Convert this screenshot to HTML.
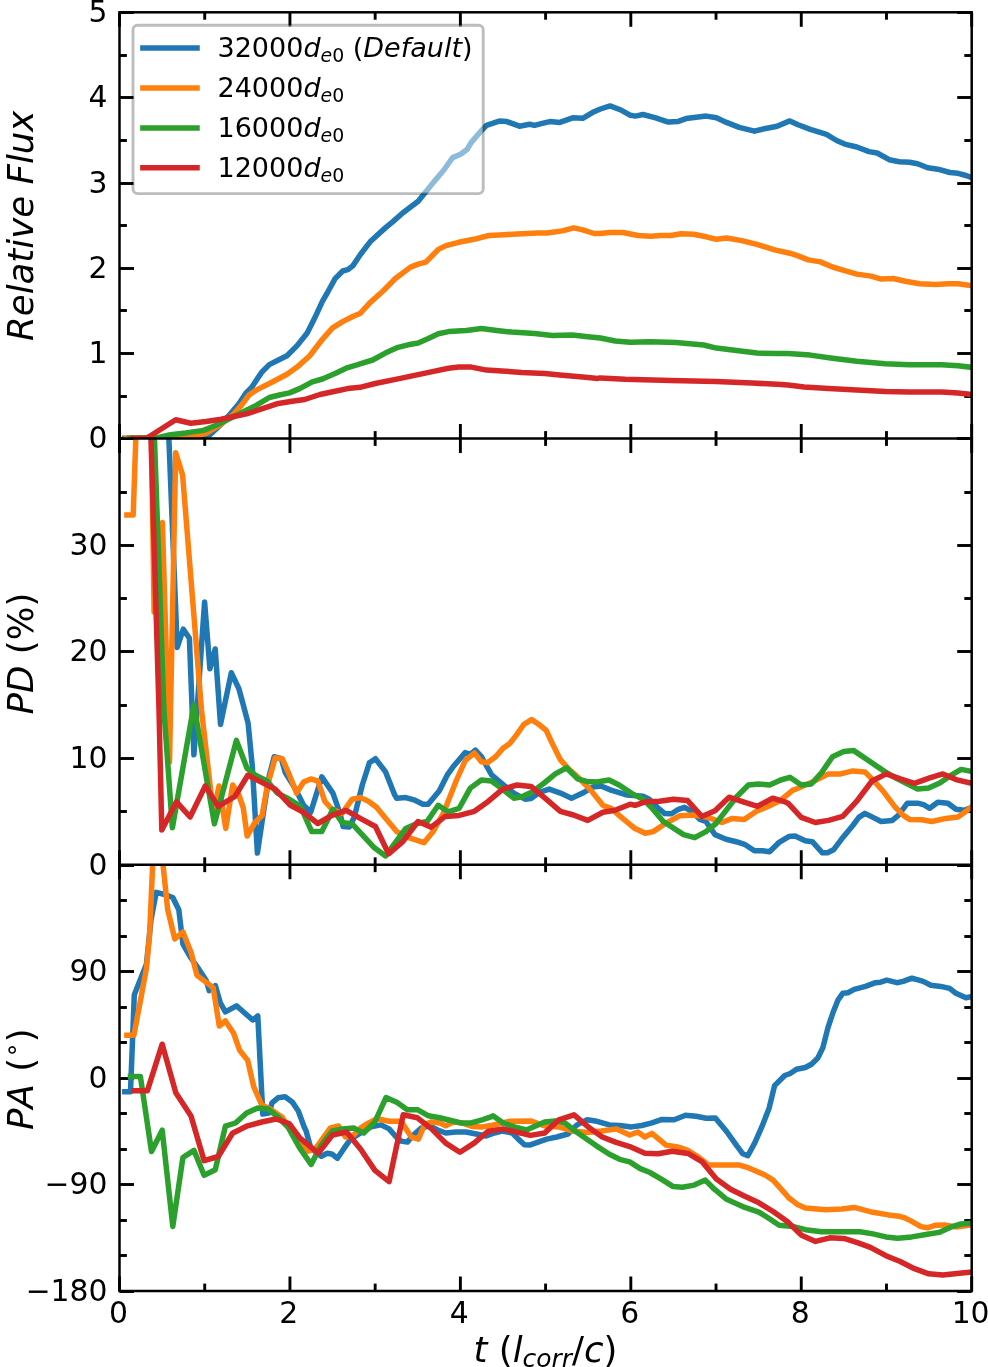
<!DOCTYPE html>
<html lang="en"><head><meta charset="utf-8"><title>Relative Flux, PD and PA versus time</title>
<style>html,body{margin:0;padding:0;background:#fff;}svg{display:block;}text{font-family:"DejaVu Sans", "Liberation Sans", sans-serif;fill:#000;}.it{font-style:italic;}</style>
</head><body>
<svg width="988" height="1367" viewBox="0 0 988 1367">
<rect x="0" y="0" width="988" height="1367" fill="#ffffff"/>
<defs>
<clipPath id="c0"><rect x="119.50" y="12.30" width="852.20" height="426.20"/></clipPath>
<clipPath id="c1"><rect x="119.50" y="438.50" width="852.20" height="426.25"/></clipPath>
<clipPath id="c2"><rect x="119.50" y="864.75" width="852.20" height="426.25"/></clipPath>
</defs>
<g stroke="#000" fill="none">
<line x1="119.50" y1="438.50" x2="119.50" y2="424.00" stroke-width="2.9"/>
<line x1="119.50" y1="12.30" x2="119.50" y2="26.80" stroke-width="2.9"/>
<line x1="204.72" y1="438.50" x2="204.72" y2="431.10" stroke-width="2.9"/>
<line x1="204.72" y1="12.30" x2="204.72" y2="19.70" stroke-width="2.9"/>
<line x1="289.94" y1="438.50" x2="289.94" y2="424.00" stroke-width="2.9"/>
<line x1="289.94" y1="12.30" x2="289.94" y2="26.80" stroke-width="2.9"/>
<line x1="375.16" y1="438.50" x2="375.16" y2="431.10" stroke-width="2.9"/>
<line x1="375.16" y1="12.30" x2="375.16" y2="19.70" stroke-width="2.9"/>
<line x1="460.38" y1="438.50" x2="460.38" y2="424.00" stroke-width="2.9"/>
<line x1="460.38" y1="12.30" x2="460.38" y2="26.80" stroke-width="2.9"/>
<line x1="545.60" y1="438.50" x2="545.60" y2="431.10" stroke-width="2.9"/>
<line x1="545.60" y1="12.30" x2="545.60" y2="19.70" stroke-width="2.9"/>
<line x1="630.82" y1="438.50" x2="630.82" y2="424.00" stroke-width="2.9"/>
<line x1="630.82" y1="12.30" x2="630.82" y2="26.80" stroke-width="2.9"/>
<line x1="716.04" y1="438.50" x2="716.04" y2="431.10" stroke-width="2.9"/>
<line x1="716.04" y1="12.30" x2="716.04" y2="19.70" stroke-width="2.9"/>
<line x1="801.26" y1="438.50" x2="801.26" y2="424.00" stroke-width="2.9"/>
<line x1="801.26" y1="12.30" x2="801.26" y2="26.80" stroke-width="2.9"/>
<line x1="886.48" y1="438.50" x2="886.48" y2="431.10" stroke-width="2.9"/>
<line x1="886.48" y1="12.30" x2="886.48" y2="19.70" stroke-width="2.9"/>
<line x1="971.70" y1="438.50" x2="971.70" y2="424.00" stroke-width="2.9"/>
<line x1="971.70" y1="12.30" x2="971.70" y2="26.80" stroke-width="2.9"/>
<line x1="119.50" y1="864.75" x2="119.50" y2="850.25" stroke-width="2.9"/>
<line x1="119.50" y1="438.50" x2="119.50" y2="453.00" stroke-width="2.9"/>
<line x1="204.72" y1="864.75" x2="204.72" y2="857.35" stroke-width="2.9"/>
<line x1="204.72" y1="438.50" x2="204.72" y2="445.90" stroke-width="2.9"/>
<line x1="289.94" y1="864.75" x2="289.94" y2="850.25" stroke-width="2.9"/>
<line x1="289.94" y1="438.50" x2="289.94" y2="453.00" stroke-width="2.9"/>
<line x1="375.16" y1="864.75" x2="375.16" y2="857.35" stroke-width="2.9"/>
<line x1="375.16" y1="438.50" x2="375.16" y2="445.90" stroke-width="2.9"/>
<line x1="460.38" y1="864.75" x2="460.38" y2="850.25" stroke-width="2.9"/>
<line x1="460.38" y1="438.50" x2="460.38" y2="453.00" stroke-width="2.9"/>
<line x1="545.60" y1="864.75" x2="545.60" y2="857.35" stroke-width="2.9"/>
<line x1="545.60" y1="438.50" x2="545.60" y2="445.90" stroke-width="2.9"/>
<line x1="630.82" y1="864.75" x2="630.82" y2="850.25" stroke-width="2.9"/>
<line x1="630.82" y1="438.50" x2="630.82" y2="453.00" stroke-width="2.9"/>
<line x1="716.04" y1="864.75" x2="716.04" y2="857.35" stroke-width="2.9"/>
<line x1="716.04" y1="438.50" x2="716.04" y2="445.90" stroke-width="2.9"/>
<line x1="801.26" y1="864.75" x2="801.26" y2="850.25" stroke-width="2.9"/>
<line x1="801.26" y1="438.50" x2="801.26" y2="453.00" stroke-width="2.9"/>
<line x1="886.48" y1="864.75" x2="886.48" y2="857.35" stroke-width="2.9"/>
<line x1="886.48" y1="438.50" x2="886.48" y2="445.90" stroke-width="2.9"/>
<line x1="971.70" y1="864.75" x2="971.70" y2="850.25" stroke-width="2.9"/>
<line x1="971.70" y1="438.50" x2="971.70" y2="453.00" stroke-width="2.9"/>
<line x1="119.50" y1="1291.00" x2="119.50" y2="1276.50" stroke-width="2.9"/>
<line x1="119.50" y1="864.75" x2="119.50" y2="879.25" stroke-width="2.9"/>
<line x1="204.72" y1="1291.00" x2="204.72" y2="1283.60" stroke-width="2.9"/>
<line x1="204.72" y1="864.75" x2="204.72" y2="872.15" stroke-width="2.9"/>
<line x1="289.94" y1="1291.00" x2="289.94" y2="1276.50" stroke-width="2.9"/>
<line x1="289.94" y1="864.75" x2="289.94" y2="879.25" stroke-width="2.9"/>
<line x1="375.16" y1="1291.00" x2="375.16" y2="1283.60" stroke-width="2.9"/>
<line x1="375.16" y1="864.75" x2="375.16" y2="872.15" stroke-width="2.9"/>
<line x1="460.38" y1="1291.00" x2="460.38" y2="1276.50" stroke-width="2.9"/>
<line x1="460.38" y1="864.75" x2="460.38" y2="879.25" stroke-width="2.9"/>
<line x1="545.60" y1="1291.00" x2="545.60" y2="1283.60" stroke-width="2.9"/>
<line x1="545.60" y1="864.75" x2="545.60" y2="872.15" stroke-width="2.9"/>
<line x1="630.82" y1="1291.00" x2="630.82" y2="1276.50" stroke-width="2.9"/>
<line x1="630.82" y1="864.75" x2="630.82" y2="879.25" stroke-width="2.9"/>
<line x1="716.04" y1="1291.00" x2="716.04" y2="1283.60" stroke-width="2.9"/>
<line x1="716.04" y1="864.75" x2="716.04" y2="872.15" stroke-width="2.9"/>
<line x1="801.26" y1="1291.00" x2="801.26" y2="1276.50" stroke-width="2.9"/>
<line x1="801.26" y1="864.75" x2="801.26" y2="879.25" stroke-width="2.9"/>
<line x1="886.48" y1="1291.00" x2="886.48" y2="1283.60" stroke-width="2.9"/>
<line x1="886.48" y1="864.75" x2="886.48" y2="872.15" stroke-width="2.9"/>
<line x1="971.70" y1="1291.00" x2="971.70" y2="1276.50" stroke-width="2.9"/>
<line x1="971.70" y1="864.75" x2="971.70" y2="879.25" stroke-width="2.9"/>
<line x1="119.50" y1="438.50" x2="134.00" y2="438.50" stroke-width="2.9"/>
<line x1="971.70" y1="438.50" x2="957.20" y2="438.50" stroke-width="2.9"/>
<line x1="119.50" y1="396.50" x2="126.90" y2="396.50" stroke-width="2.9"/>
<line x1="971.70" y1="396.50" x2="964.30" y2="396.50" stroke-width="2.9"/>
<line x1="119.50" y1="353.50" x2="134.00" y2="353.50" stroke-width="2.9"/>
<line x1="971.70" y1="353.50" x2="957.20" y2="353.50" stroke-width="2.9"/>
<line x1="119.50" y1="310.50" x2="126.90" y2="310.50" stroke-width="2.9"/>
<line x1="971.70" y1="310.50" x2="964.30" y2="310.50" stroke-width="2.9"/>
<line x1="119.50" y1="268.50" x2="134.00" y2="268.50" stroke-width="2.9"/>
<line x1="971.70" y1="268.50" x2="957.20" y2="268.50" stroke-width="2.9"/>
<line x1="119.50" y1="225.50" x2="126.90" y2="225.50" stroke-width="2.9"/>
<line x1="971.70" y1="225.50" x2="964.30" y2="225.50" stroke-width="2.9"/>
<line x1="119.50" y1="183.50" x2="134.00" y2="183.50" stroke-width="2.9"/>
<line x1="971.70" y1="183.50" x2="957.20" y2="183.50" stroke-width="2.9"/>
<line x1="119.50" y1="140.50" x2="126.90" y2="140.50" stroke-width="2.9"/>
<line x1="971.70" y1="140.50" x2="964.30" y2="140.50" stroke-width="2.9"/>
<line x1="119.50" y1="97.50" x2="134.00" y2="97.50" stroke-width="2.9"/>
<line x1="971.70" y1="97.50" x2="957.20" y2="97.50" stroke-width="2.9"/>
<line x1="119.50" y1="55.50" x2="126.90" y2="55.50" stroke-width="2.9"/>
<line x1="971.70" y1="55.50" x2="964.30" y2="55.50" stroke-width="2.9"/>
<line x1="119.50" y1="12.50" x2="134.00" y2="12.50" stroke-width="2.9"/>
<line x1="971.70" y1="12.50" x2="957.20" y2="12.50" stroke-width="2.9"/>
<line x1="119.50" y1="865.50" x2="134.00" y2="865.50" stroke-width="2.9"/>
<line x1="971.70" y1="865.50" x2="957.20" y2="865.50" stroke-width="2.9"/>
<line x1="119.50" y1="811.50" x2="126.90" y2="811.50" stroke-width="2.9"/>
<line x1="971.70" y1="811.50" x2="964.30" y2="811.50" stroke-width="2.9"/>
<line x1="119.50" y1="758.50" x2="134.00" y2="758.50" stroke-width="2.9"/>
<line x1="971.70" y1="758.50" x2="957.20" y2="758.50" stroke-width="2.9"/>
<line x1="119.50" y1="705.50" x2="126.90" y2="705.50" stroke-width="2.9"/>
<line x1="971.70" y1="705.50" x2="964.30" y2="705.50" stroke-width="2.9"/>
<line x1="119.50" y1="651.50" x2="134.00" y2="651.50" stroke-width="2.9"/>
<line x1="971.70" y1="651.50" x2="957.20" y2="651.50" stroke-width="2.9"/>
<line x1="119.50" y1="598.50" x2="126.90" y2="598.50" stroke-width="2.9"/>
<line x1="971.70" y1="598.50" x2="964.30" y2="598.50" stroke-width="2.9"/>
<line x1="119.50" y1="545.50" x2="134.00" y2="545.50" stroke-width="2.9"/>
<line x1="971.70" y1="545.50" x2="957.20" y2="545.50" stroke-width="2.9"/>
<line x1="119.50" y1="492.50" x2="126.90" y2="492.50" stroke-width="2.9"/>
<line x1="971.70" y1="492.50" x2="964.30" y2="492.50" stroke-width="2.9"/>
<line x1="119.50" y1="438.50" x2="134.00" y2="438.50" stroke-width="2.9"/>
<line x1="971.70" y1="438.50" x2="957.20" y2="438.50" stroke-width="2.9"/>
<line x1="119.50" y1="1291.50" x2="134.00" y2="1291.50" stroke-width="2.9"/>
<line x1="971.70" y1="1291.50" x2="957.20" y2="1291.50" stroke-width="2.9"/>
<line x1="119.50" y1="1255.50" x2="126.90" y2="1255.50" stroke-width="2.9"/>
<line x1="971.70" y1="1255.50" x2="964.30" y2="1255.50" stroke-width="2.9"/>
<line x1="119.50" y1="1220.50" x2="126.90" y2="1220.50" stroke-width="2.9"/>
<line x1="971.70" y1="1220.50" x2="964.30" y2="1220.50" stroke-width="2.9"/>
<line x1="119.50" y1="1184.50" x2="134.00" y2="1184.50" stroke-width="2.9"/>
<line x1="971.70" y1="1184.50" x2="957.20" y2="1184.50" stroke-width="2.9"/>
<line x1="119.50" y1="1149.50" x2="126.90" y2="1149.50" stroke-width="2.9"/>
<line x1="971.70" y1="1149.50" x2="964.30" y2="1149.50" stroke-width="2.9"/>
<line x1="119.50" y1="1113.50" x2="126.90" y2="1113.50" stroke-width="2.9"/>
<line x1="971.70" y1="1113.50" x2="964.30" y2="1113.50" stroke-width="2.9"/>
<line x1="119.50" y1="1078.50" x2="134.00" y2="1078.50" stroke-width="2.9"/>
<line x1="971.70" y1="1078.50" x2="957.20" y2="1078.50" stroke-width="2.9"/>
<line x1="119.50" y1="1042.50" x2="126.90" y2="1042.50" stroke-width="2.9"/>
<line x1="971.70" y1="1042.50" x2="964.30" y2="1042.50" stroke-width="2.9"/>
<line x1="119.50" y1="1007.50" x2="126.90" y2="1007.50" stroke-width="2.9"/>
<line x1="971.70" y1="1007.50" x2="964.30" y2="1007.50" stroke-width="2.9"/>
<line x1="119.50" y1="971.50" x2="134.00" y2="971.50" stroke-width="2.9"/>
<line x1="971.70" y1="971.50" x2="957.20" y2="971.50" stroke-width="2.9"/>
<line x1="119.50" y1="936.50" x2="126.90" y2="936.50" stroke-width="2.9"/>
<line x1="971.70" y1="936.50" x2="964.30" y2="936.50" stroke-width="2.9"/>
<line x1="119.50" y1="900.50" x2="126.90" y2="900.50" stroke-width="2.9"/>
<line x1="971.70" y1="900.50" x2="964.30" y2="900.50" stroke-width="2.9"/>
<line x1="119.50" y1="865.50" x2="134.00" y2="865.50" stroke-width="2.9"/>
<line x1="971.70" y1="865.50" x2="957.20" y2="865.50" stroke-width="2.9"/>
</g>
<g clip-path="url(#c0)" fill="none" stroke-width="5.5" stroke-linejoin="round" stroke-linecap="square">
<polyline stroke="#1f77b4" points="124.6,438.2 198.4,438.2 208.6,436.0 221.2,424.3 231.3,412.7 238.9,403.8 246.5,392.4 251.6,387.4 261.7,372.2 269.3,364.6 276.9,360.8 287.0,355.7 297.1,345.6 307.2,333.0 314.8,317.8 322.4,301.3 327.5,292.5 335.1,278.6 342.7,271.0 347.7,269.7 352.8,265.9 360.4,254.5 370.1,241.8 385.3,227.9 392.9,221.6 403.0,212.7 418.2,201.3 433.4,182.4 443.5,170.5 452.6,157.6 460.5,154.3 467.0,149.5 471.3,142.4 481.5,130.5 486.5,125.4 499.2,121.1 506.8,121.6 519.4,126.2 529.5,124.2 534.6,125.4 542.2,123.4 549.8,121.6 559.9,122.4 572.6,117.8 582.7,118.3 592.8,112.3 600.4,109.0 610.1,105.9 620.2,109.7 630.4,115.3 635.4,116.1 643.0,114.5 655.7,117.8 668.3,122.1 678.4,121.4 686.0,118.6 706.3,116.1 716.4,117.8 726.5,122.4 739.2,127.4 754.4,131.2 764.5,128.7 777.1,126.2 789.8,120.9 798.1,124.7 810.3,129.4 826.5,134.4 836.6,140.5 844.7,144.1 856.8,147.0 869.0,151.6 877.1,153.0 889.2,159.7 899.3,161.7 909.5,162.3 917.6,163.8 927.7,167.8 937.8,169.2 949.9,172.5 958.0,173.3 966.1,175.5 972.2,177.9"/>
<polyline stroke="#ff7f0e" points="126.3,438.2 170.6,438.2 195.9,435.7 206.0,433.4 221.2,424.1 233.9,413.9 241.5,405.1 249.0,395.0 256.6,389.9 271.8,382.3 287.0,374.2 297.1,367.1 309.8,355.7 322.4,339.3 332.6,327.9 342.7,321.6 352.8,316.5 360.4,313.2 370.1,302.6 382.8,291.2 395.4,278.5 410.6,267.1 418.2,264.1 425.8,262.1 433.4,254.5 438.4,249.4 446.0,245.6 458.7,242.3 473.9,239.3 489.0,235.5 504.2,234.7 521.9,233.7 537.1,233.0 547.2,233.0 562.4,230.9 573.8,227.9 582.7,229.9 594.1,233.5 600.0,233.5 610.1,232.5 622.8,232.5 638.0,235.5 650.6,236.3 660.7,235.5 670.9,235.5 681.0,233.7 693.6,234.2 706.3,236.8 716.4,239.3 726.5,238.0 741.7,240.6 756.9,244.4 774.6,249.9 789.8,253.2 798.1,255.9 808.2,259.9 820.4,261.9 832.5,267.0 844.7,270.6 856.8,274.1 871.0,276.1 881.1,279.1 893.3,278.5 905.4,281.2 919.6,283.8 935.8,284.6 947.9,283.8 958.0,283.8 972.2,285.8"/>
<polyline stroke="#2ca02c" points="129.7,438.2 155.4,438.2 170.6,434.7 185.8,432.9 203.5,430.4 216.2,425.3 231.3,417.7 246.5,410.1 256.6,405.1 269.3,397.5 279.4,395.0 289.5,392.9 299.7,388.6 312.3,381.8 322.4,379.0 335.1,373.5 347.7,367.6 357.9,364.6 360.0,363.8 372.7,360.0 385.3,353.1 398.0,347.3 408.1,344.8 418.2,343.0 428.3,338.5 438.4,333.7 448.6,331.6 466.3,330.4 481.5,328.6 496.6,330.4 511.8,332.1 534.6,333.4 552.3,335.4 572.6,334.9 587.7,336.7 600.4,338.0 615.2,341.0 630.4,342.3 650.6,341.8 675.9,342.5 703.7,345.0 716.4,348.1 736.6,350.6 756.9,353.1 777.1,353.6 788.0,353.6 810.3,355.1 832.5,358.3 856.8,361.3 885.2,363.8 909.5,364.8 941.8,364.8 958.0,365.8 972.2,367.4"/>
<polyline stroke="#d62728" points="133.1,438.2 146.6,438.2 175.7,419.8 190.9,423.3 206.0,421.5 221.2,419.3 233.9,416.5 246.5,413.9 261.7,408.9 276.9,403.8 292.1,401.3 304.7,399.5 319.9,394.5 335.1,391.2 347.7,388.6 360.0,387.3 375.2,383.5 398.0,378.9 418.2,374.6 435.9,370.9 448.6,368.3 458.7,367.1 471.3,367.1 486.5,370.1 501.7,370.9 521.9,372.6 544.7,373.4 562.4,375.2 582.7,376.9 597.9,378.4 600.0,377.9 625.3,379.2 670.9,380.5 716.4,381.5 751.8,383.0 777.1,384.3 788.0,385.0 804.2,387.0 828.5,388.5 856.8,390.1 885.2,391.5 909.5,392.1 941.8,392.1 958.0,393.1 972.2,394.5"/>
</g>
<g clip-path="url(#c1)" fill="none" stroke-width="5.5" stroke-linejoin="round" stroke-linecap="square">
<polyline stroke="#1f77b4" points="163.5,330.0 168.9,439.0 177.2,647.4 183.3,629.2 189.4,638.3 193.9,754.8 204.6,601.9 209.9,668.7 215.2,649.0 220.5,724.4 231.3,672.8 238.9,688.8 243.9,707.3 248.1,723.3 252.3,766.3 257.4,853.0 264.1,808.0 269.2,776.0 274.2,756.7 281.3,758.7 285.4,772.9 295.5,789.1 303.6,805.3 310.7,812.3 321.8,776.9 332.9,793.1 340.0,813.4 343.1,826.5 349.1,827.1 354.2,817.4 362.3,785.0 369.4,762.8 375.4,758.7 385.6,771.9 394.7,795.1 396.7,798.2 405.8,797.6 414.9,800.2 423.0,804.3 428.1,804.3 439.2,791.1 447.3,774.9 453.1,766.8 465.2,752.6 470.3,754.3 475.4,750.2 481.4,756.7 491.6,774.9 503.7,785.0 513.8,793.1 525.0,799.2 531.0,798.6 540.1,792.1 549.3,789.1 560.4,793.1 571.5,798.2 582.7,793.1 592.8,787.0 600.9,786.0 611.0,790.1 627.2,795.1 643.1,796.2 649.2,799.2 657.3,807.3 664.4,813.4 671.4,813.8 678.5,809.3 684.6,807.3 691.7,811.3 699.8,819.4 705.9,821.5 715.0,834.6 726.1,839.3 736.2,841.7 745.3,844.7 754.4,850.8 762.5,850.8 769.6,851.8 778.7,842.7 788.8,836.6 795.1,836.0 805.2,840.7 812.3,841.7 822.4,852.8 827.5,852.8 833.5,849.8 842.7,837.7 852.8,825.5 858.9,817.4 864.9,813.4 873.0,817.4 881.1,821.5 892.3,820.4 898.3,815.4 907.4,803.2 917.6,803.2 923.6,804.7 929.7,808.3 937.8,802.2 947.9,803.2 956.0,809.3 964.1,810.3 972.2,807.3"/>
<polyline stroke="#ff7f0e" points="126.9,515.0 133.2,515.0 140.0,316.0 147.3,159.0 154.1,612.0 162.4,522.6 169.5,762.0 175.7,452.8 182.6,475.0 201.5,710.0 213.4,814.0 219.0,786.0 225.8,828.4 232.7,785.0 238.9,795.0 243.3,808.0 247.1,836.0 255.0,822.5 262.1,815.4 267.1,787.0 275.2,757.7 282.3,758.7 289.4,774.9 296.5,793.1 303.6,782.0 310.7,778.9 317.8,781.0 324.8,801.2 331.9,809.3 342.0,813.4 352.2,799.2 360.3,797.6 368.4,801.2 376.5,807.3 386.6,819.4 396.7,831.6 408.8,837.7 424.0,842.7 433.1,831.6 443.3,813.4 445.0,809.3 456.1,781.0 465.2,760.7 474.4,753.0 481.4,761.7 487.5,762.8 495.6,756.7 502.7,748.6 509.8,743.5 516.9,734.4 523.9,724.3 531.6,719.6 540.1,725.3 546.2,730.4 552.3,743.5 560.4,759.7 568.5,768.8 578.6,777.9 590.7,790.1 602.9,805.3 611.0,808.3 619.1,815.4 631.2,825.5 635.0,828.5 645.1,833.2 653.2,831.6 665.4,823.5 679.5,815.8 693.7,815.0 707.9,817.4 722.0,822.5 732.2,818.4 744.3,819.4 756.5,811.3 768.6,806.3 780.7,800.2 792.9,790.1 796.1,789.1 812.3,782.0 828.5,773.9 840.6,773.9 852.8,770.9 864.9,771.9 873.0,780.0 883.1,791.1 895.3,807.3 903.4,815.4 909.5,819.4 921.6,819.8 931.7,821.5 945.9,818.4 958.0,817.0 966.1,811.3 972.2,806.3"/>
<polyline stroke="#2ca02c" points="149.4,250.0 154.5,439.0 163.9,710.0 172.4,827.7 193.9,705.0 214.4,823.9 236.4,740.4 247.1,768.4 255.0,774.9 267.1,781.0 277.3,793.1 287.4,798.2 300.5,806.3 311.7,831.6 321.8,831.6 332.9,809.3 342.0,822.5 352.2,823.9 374.4,847.8 385.6,855.9 405.8,828.5 416.9,823.5 427.1,821.5 438.2,805.3 447.3,811.3 451.1,810.9 459.2,808.3 470.3,788.1 481.4,780.0 491.6,781.0 503.7,790.1 513.8,798.2 521.9,796.8 532.0,792.1 544.2,783.0 555.3,773.9 566.5,767.8 577.6,778.9 586.7,781.4 596.8,782.0 609.0,780.0 619.1,785.0 631.2,793.1 635.0,795.1 643.1,799.2 651.2,807.3 663.3,821.5 683.6,834.6 694.7,837.7 705.9,831.6 716.0,823.5 726.1,810.3 736.2,797.2 748.4,785.0 758.5,784.0 769.6,785.0 780.7,780.0 789.9,777.3 801.2,785.0 811.3,784.0 821.4,772.9 832.5,756.7 843.7,751.6 853.8,750.6 885.2,771.9 897.3,778.9 917.6,789.1 928.7,788.1 939.8,783.0 949.9,775.9 961.1,769.4 972.2,771.5"/>
<polyline stroke="#d62728" points="146.0,250.0 151.0,439.0 159.0,710.0 161.8,830.0 176.5,801.8 190.1,817.0 205.3,785.9 218.2,806.4 234.9,796.5 247.8,775.3 255.0,778.9 275.2,789.1 290.4,805.3 303.6,812.3 317.8,823.5 331.9,815.4 346.1,810.3 360.3,818.4 375.4,826.5 388.6,853.8 402.8,841.7 418.0,821.5 431.1,827.1 445.3,816.4 459.2,815.4 474.4,811.3 488.5,801.2 502.7,789.1 516.9,785.0 531.0,786.4 546.2,799.2 560.4,811.3 573.5,815.0 587.7,820.4 602.9,812.3 615.0,810.3 630.2,804.3 635.0,805.3 645.1,801.8 659.3,801.2 673.5,799.2 687.6,800.6 701.8,816.4 715.0,810.7 729.1,797.2 743.3,801.8 757.5,806.3 772.7,798.2 785.8,802.2 788.0,803.2 801.2,817.4 815.3,822.5 828.5,820.4 842.7,816.4 856.8,801.2 872.0,781.0 886.2,773.9 900.3,778.9 914.5,783.4 929.7,777.9 942.9,773.9 956.0,779.6 972.2,783.4"/>
</g>
<g clip-path="url(#c2)" fill="none" stroke-width="5.5" stroke-linejoin="round" stroke-linecap="square">
<polyline stroke="#1f77b4" points="124.8,1091.7 130.5,1091.7 134.3,994.7 146.4,964.3 151.0,920.0 156.2,892.4 164.7,894.5 172.8,897.5 178.8,909.7 182.9,944.0 191.0,958.0 199.0,969.4 206.2,980.5 209.2,990.6 215.3,985.6 220.3,1002.8 225.4,1011.9 236.5,1005.8 252.7,1020.0 257.8,1016.0 262.8,1114.0 269.0,1113.0 272.0,1102.9 278.0,1097.8 285.1,1096.8 292.2,1101.9 298.3,1111.0 304.3,1127.2 306.1,1131.0 311.1,1149.2 315.2,1151.2 321.3,1156.3 327.3,1153.2 332.4,1154.3 337.4,1158.3 343.5,1149.2 350.6,1139.1 360.7,1133.0 370.9,1126.9 381.0,1124.9 389.1,1128.9 396.2,1137.0 401.2,1141.1 407.3,1142.1 413.4,1135.0 421.5,1127.9 429.6,1125.9 437.7,1130.0 445.7,1133.0 455.9,1132.0 466.0,1132.0 476.1,1134.0 486.2,1136.0 494.3,1133.0 502.1,1131.0 512.3,1133.0 518.3,1139.1 524.4,1144.7 529.5,1145.1 546.7,1139.1 556.8,1137.0 567.9,1134.0 577.0,1124.9 587.2,1119.8 595.3,1120.9 609.4,1124.9 619.6,1125.5 631.7,1126.9 641.8,1125.5 651.9,1122.9 662.1,1119.4 674.2,1119.8 684.3,1115.8 685.1,1115.3 696.2,1116.3 706.3,1118.3 715.4,1117.9 726.6,1131.5 736.7,1145.7 742.8,1153.8 747.8,1155.8 754.9,1142.6 762.0,1126.4 769.1,1108.2 774.6,1085.6 784.7,1075.5 790.2,1073.5 796.5,1069.3 805.3,1067.5 811.5,1064.2 817.8,1058.0 822.8,1047.9 827.9,1027.9 832.9,1012.8 837.9,1000.2 842.9,993.2 847.9,992.7 854.2,989.4 865.5,986.4 875.5,982.7 880.6,982.2 886.8,980.2 896.9,982.7 903.2,981.4 911.9,978.2 923.2,981.4 930.8,985.2 940.8,986.4 949.6,988.4 955.9,993.2 965.9,997.7 972.2,996.5"/>
<polyline stroke="#ff7f0e" points="126.9,1035.2 133.9,1035.2 140.4,1000.7 146.4,968.4 149.5,936.0 156.0,790.0 163.0,864.5 167.7,909.7 174.8,939.0 182.9,932.0 191.0,952.2 197.0,975.4 213.2,987.6 219.3,1026.0 225.4,1021.0 233.5,1033.0 239.6,1050.2 247.7,1060.4 253.7,1086.7 261.8,1105.0 270.0,1109.0 282.0,1117.0 292.2,1133.2 300.0,1141.1 308.1,1151.2 315.2,1149.2 322.3,1139.1 330.4,1127.9 338.5,1125.9 345.5,1137.0 352.6,1136.0 360.7,1127.9 368.8,1122.9 376.9,1118.8 389.1,1121.3 401.2,1121.3 411.3,1137.0 418.4,1139.1 424.5,1124.9 431.6,1121.9 439.7,1122.9 445.7,1125.9 453.8,1121.9 461.9,1122.9 472.1,1126.5 482.2,1126.9 492.3,1125.3 510.2,1121.3 530.5,1120.9 544.7,1125.9 558.8,1126.9 573.0,1131.0 587.2,1132.4 601.3,1131.0 616.5,1128.9 629.7,1135.0 637.8,1132.0 644.9,1137.0 651.9,1133.4 666.1,1145.1 676.2,1146.8 680.0,1147.7 688.1,1150.7 698.2,1156.8 708.3,1164.9 722.5,1164.9 738.7,1164.9 748.8,1167.9 765.0,1175.0 773.1,1180.1 781.2,1189.2 789.3,1198.3 797.4,1204.4 805.5,1208.0 825.7,1209.8 841.9,1209.0 854.1,1207.4 873.0,1212.3 888.5,1214.9 898.9,1216.2 905.3,1218.1 911.8,1221.4 920.9,1226.6 927.4,1227.8 935.1,1225.3 944.2,1224.9 955.9,1226.9 963.6,1225.9 972.4,1224.6"/>
<polyline stroke="#2ca02c" points="130.5,1076.6 140.4,1076.6 143.4,1096.8 151.5,1151.5 162.2,1130.2 172.8,1226.4 182.9,1157.5 194.0,1150.4 204.1,1175.3 215.3,1169.7 225.4,1126.2 235.5,1123.0 246.6,1113.0 257.8,1108.0 267.9,1109.0 278.0,1117.0 288.1,1127.2 299.3,1147.4 311.1,1164.4 321.3,1145.1 332.4,1131.0 342.5,1128.9 353.6,1127.9 363.8,1133.0 374.9,1121.9 386.0,1097.6 397.2,1102.6 407.3,1109.7 417.4,1109.7 428.5,1115.8 439.7,1117.8 449.8,1120.2 460.9,1122.9 471.1,1122.9 482.2,1119.8 492.3,1116.4 493.0,1115.8 503.2,1122.9 514.3,1126.9 526.4,1130.0 544.7,1121.9 554.8,1120.9 564.9,1122.9 575.0,1131.0 595.3,1145.1 609.4,1154.3 619.6,1159.3 629.7,1161.9 639.8,1168.4 649.9,1172.5 662.1,1179.6 673.2,1186.6 682.3,1187.2 694.2,1185.1 705.3,1180.1 714.4,1189.2 726.6,1199.3 744.8,1207.4 758.9,1212.1 769.1,1218.5 779.2,1225.2 793.4,1226.6 805.5,1229.7 821.7,1231.7 852.1,1231.7 860.0,1231.7 873.0,1233.9 885.9,1236.9 897.6,1238.2 911.8,1236.9 927.4,1234.3 939.0,1232.4 950.7,1227.2 961.0,1224.0 972.4,1223.3"/>
<polyline stroke="#d62728" points="134.0,1090.7 147.4,1090.7 162.2,1044.2 175.8,1092.8 191.0,1116.0 204.1,1160.6 218.3,1156.5 232.5,1133.2 246.6,1126.2 261.8,1122.0 276.0,1119.0 289.1,1123.5 300.0,1138.1 318.2,1153.2 332.4,1135.0 346.6,1132.0 360.7,1149.2 374.9,1170.4 389.1,1181.6 403.2,1114.8 417.4,1117.8 431.6,1128.9 445.7,1143.1 459.9,1152.2 474.1,1143.1 488.3,1131.0 490.0,1131.0 503.2,1128.9 516.3,1132.0 530.5,1135.4 544.7,1133.0 558.8,1119.8 574.0,1114.8 588.2,1126.9 602.3,1137.0 615.5,1142.1 629.7,1146.6 644.9,1153.2 658.0,1153.8 672.2,1151.2 686.4,1153.2 688.1,1153.4 702.3,1161.9 716.4,1179.1 730.6,1189.2 744.8,1196.3 758.9,1202.8 773.1,1211.5 787.3,1221.6 801.5,1235.3 815.6,1241.4 829.8,1237.8 844.0,1238.4 858.1,1242.8 870.4,1247.3 885.9,1255.7 900.2,1261.5 914.4,1268.7 928.7,1273.8 942.9,1275.1 957.2,1273.4 972.4,1271.9"/>
</g>
<g stroke="#000" stroke-width="2.5" fill="none" stroke-linecap="square">
<rect x="119.50" y="12.30" width="852.20" height="1278.70"/>
<line x1="119.50" y1="438.50" x2="971.70" y2="438.50"/>
<line x1="119.50" y1="864.75" x2="971.70" y2="864.75"/>
</g>
<rect x="133.0" y="25.3" width="350.2" height="168.3" rx="4.5" ry="4.5" fill="#ffffff" fill-opacity="0.5" stroke="#000000" stroke-opacity="0.26" stroke-width="2.9"/>
<line x1="142.9" y1="47.9" x2="197" y2="47.9" stroke="#1f77b4" stroke-width="5.5" stroke-linecap="square"/>
<text x="217.5" y="56.8" font-size="27.00">32000<tspan class="it">d</tspan><tspan dy="5.13" font-size="18.90"><tspan class="it">e</tspan>0</tspan><tspan dy="-5.13" font-size="27.00"> (</tspan><tspan class="it">Default</tspan><tspan>)</tspan></text>
<line x1="142.9" y1="87.9" x2="197" y2="87.9" stroke="#ff7f0e" stroke-width="5.5" stroke-linecap="square"/>
<text x="217.5" y="96.8" font-size="27.00">24000<tspan class="it">d</tspan><tspan dy="5.13" font-size="18.90"><tspan class="it">e</tspan>0</tspan></text>
<line x1="142.9" y1="127.9" x2="197" y2="127.9" stroke="#2ca02c" stroke-width="5.5" stroke-linecap="square"/>
<text x="217.5" y="136.8" font-size="27.00">16000<tspan class="it">d</tspan><tspan dy="5.13" font-size="18.90"><tspan class="it">e</tspan>0</tspan></text>
<line x1="142.9" y1="167.8" x2="197" y2="167.8" stroke="#d62728" stroke-width="5.5" stroke-linecap="square"/>
<text x="217.5" y="176.7" font-size="27.00">12000<tspan class="it">d</tspan><tspan dy="5.13" font-size="18.90"><tspan class="it">e</tspan>0</tspan></text>
<text x="107.5" y="448.3" font-size="29.80" text-anchor="end">0</text>
<text x="107.5" y="363.1" font-size="29.80" text-anchor="end">1</text>
<text x="107.5" y="277.8" font-size="29.80" text-anchor="end">2</text>
<text x="107.5" y="192.6" font-size="29.80" text-anchor="end">3</text>
<text x="107.5" y="107.3" font-size="29.80" text-anchor="end">4</text>
<text x="107.5" y="22.1" font-size="29.80" text-anchor="end">5</text>
<text x="107.5" y="874.5" font-size="29.80" text-anchor="end">0</text>
<text x="107.5" y="768.0" font-size="29.80" text-anchor="end">10</text>
<text x="107.5" y="661.4" font-size="29.80" text-anchor="end">20</text>
<text x="107.5" y="554.9" font-size="29.80" text-anchor="end">30</text>
<text x="107.5" y="1300.8" font-size="29.80" text-anchor="end">−180</text>
<text x="107.5" y="1194.2" font-size="29.80" text-anchor="end">−90</text>
<text x="107.5" y="1087.7" font-size="29.80" text-anchor="end">0</text>
<text x="107.5" y="981.1" font-size="29.80" text-anchor="end">90</text>
<text x="118.4" y="1323.2" font-size="29.80" text-anchor="middle">0</text>
<text x="288.8" y="1323.2" font-size="29.80" text-anchor="middle">2</text>
<text x="459.3" y="1323.2" font-size="29.80" text-anchor="middle">4</text>
<text x="629.7" y="1323.2" font-size="29.80" text-anchor="middle">6</text>
<text x="800.2" y="1323.2" font-size="29.80" text-anchor="middle">8</text>
<text x="970.6" y="1323.2" font-size="29.80" text-anchor="middle">10</text>
<text transform="translate(32.5,225.8) rotate(-90)" font-size="35.60" text-anchor="middle"><tspan class="it">Relative Flux</tspan></text>
<text transform="translate(32.5,653.5) rotate(-90)" font-size="35.60" text-anchor="middle"><tspan class="it">PD</tspan> (%)</text>
<text transform="translate(32.5,1079.2) rotate(-90)" font-size="35.60" text-anchor="middle"><tspan class="it" style="font-kerning:none">PA</tspan><tspan dx="1.2"> (</tspan><tspan dy="-12.8" font-size="24.92">∘</tspan><tspan dy="12.8" font-size="35.60">)</tspan></text>
<text x="545.5" y="1361.5" font-size="35.60" text-anchor="middle"><tspan class="it">t</tspan> (<tspan class="it">l</tspan><tspan class="it" dy="5.34" font-size="24.92">corr</tspan><tspan dy="-5.34" font-size="35.60">/</tspan><tspan class="it">c</tspan>)</text>
</svg>
</body></html>
